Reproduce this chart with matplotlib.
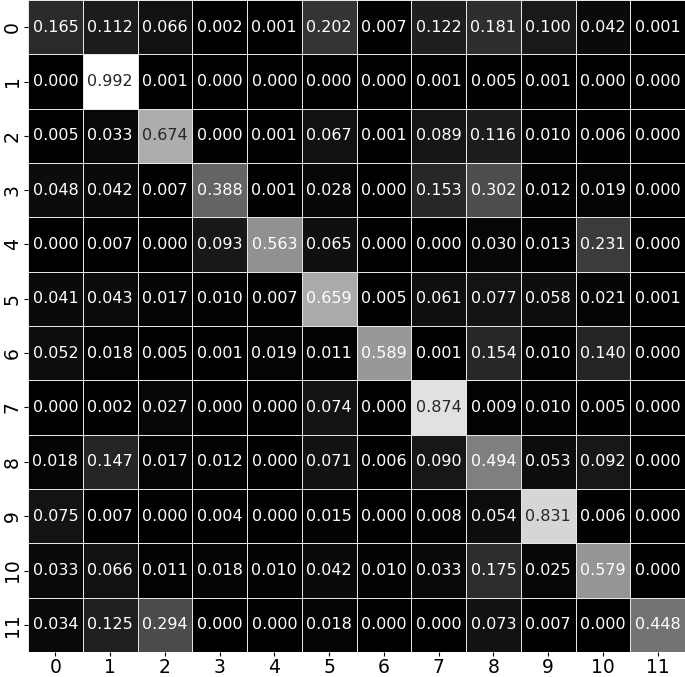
import numpy as np
import matplotlib
matplotlib.use("Agg")
import matplotlib.pyplot as plt
import seaborn as sns

# class labels and normalised confusion matrix values
labels = [str(i) for i in range(12)]
row_0 = [0.165, 0.112, 0.066, 0.002, 0.001, 0.202, 0.007, 0.122, 0.181, 0.100, 0.042, 0.001]
row_1 = [0.000, 0.992, 0.001, 0.000, 0.000, 0.000, 0.000, 0.001, 0.005, 0.001, 0.000, 0.000]
row_2 = [0.005, 0.033, 0.674, 0.000, 0.001, 0.067, 0.001, 0.089, 0.116, 0.010, 0.006, 0.000]
row_3 = [0.048, 0.042, 0.007, 0.388, 0.001, 0.028, 0.000, 0.153, 0.302, 0.012, 0.019, 0.000]
row_4 = [0.000, 0.007, 0.000, 0.093, 0.563, 0.065, 0.000, 0.000, 0.030, 0.013, 0.231, 0.000]
row_5 = [0.041, 0.043, 0.017, 0.010, 0.007, 0.659, 0.005, 0.061, 0.077, 0.058, 0.021, 0.001]
row_6 = [0.052, 0.018, 0.005, 0.001, 0.019, 0.011, 0.589, 0.001, 0.154, 0.010, 0.140, 0.000]
row_7 = [0.000, 0.002, 0.027, 0.000, 0.000, 0.074, 0.000, 0.874, 0.009, 0.010, 0.005, 0.000]
row_8 = [0.018, 0.147, 0.017, 0.012, 0.000, 0.071, 0.006, 0.090, 0.494, 0.053, 0.092, 0.000]
row_9 = [0.075, 0.007, 0.000, 0.004, 0.000, 0.015, 0.000, 0.008, 0.054, 0.831, 0.006, 0.000]
row_10 = [0.033, 0.066, 0.011, 0.018, 0.010, 0.042, 0.010, 0.033, 0.175, 0.025, 0.579, 0.000]
row_11 = [0.034, 0.125, 0.294, 0.000, 0.000, 0.018, 0.000, 0.000, 0.073, 0.007, 0.000, 0.448]

matrix = np.array([row_0, row_1, row_2, row_3, row_4, row_5,
                   row_6, row_7, row_8, row_9, row_10, row_11])

fig = plt.figure(figsize=(6.85, 6.77), dpi=100)
ax = fig.add_axes([28 / 685, 25 / 677, 657 / 685, 652 / 677])
sns.heatmap(matrix, ax=ax, cmap="gray", annot=True, fmt=".3f",
            annot_kws={"size": 11.5}, linewidths=0.7, linecolor="#e6e6e6",
            cbar=False, xticklabels=labels, yticklabels=labels)
ax.tick_params(axis="both", labelsize=13.5, length=3, pad=1.5)
plt.setp(ax.get_yticklabels(), rotation=90, va="center")
plt.setp(ax.get_xticklabels(), rotation=0)

fig.savefig("out.png", dpi=100)
